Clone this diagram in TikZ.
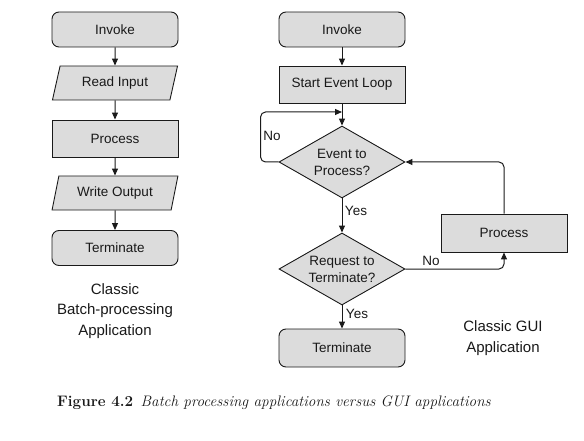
\documentclass[tikz,border=0pt]{standalone}
\usepackage{fontspec}
\newfontfamily\hv{Liberation Sans}
\usetikzlibrary{shapes.geometric,arrows.meta}
\definecolor{boxgray}{HTML}{DCDCDC}
\definecolor{linegray}{HTML}{1A1A1A}
\begin{document}
\begin{tikzpicture}[x=1pt,y=-1pt,
  every node/.style={font=\hv\fontsize{13.5}{15}\selectfont, text=black!90},
  base/.style={draw=linegray, fill=boxgray, line width=0.9pt, minimum width=126pt, minimum height=35pt, inner sep=0pt},
  termbox/.style={base, rounded corners=7pt},
  procbox/.style={base, rectangle, minimum height=37pt},
  iobox/.style={base, trapezium, trapezium left angle=70, trapezium right angle=110, trapezium stretches=true, minimum height=34pt},
  decbox/.style={base, diamond, aspect=1.75, minimum width=126pt, minimum height=72pt, align=center, font=\hv\fontsize{13.5}{17}\selectfont},
  conn/.style={draw=linegray, line width=1pt, -{Triangle[length=7pt,width=6pt]}},
  lbl/.style={font=\hv\fontsize{13.5}{15}\selectfont},
  captext/.style={align=center, font=\hv\fontsize{15}{20.5}\selectfont}
]
\useasboundingbox (0,0) rectangle (584,441);
% left column
\node[termbox] (inv1) at (115,29.5) {Invoke};
\node[iobox] (read1) at (115,83) {Read Input};
\node[procbox] (proc1) at (115,138.5) {Process};
\node[iobox] (write1) at (115,193) {Write Output};
\node[termbox] (term1) at (115,248) {Terminate};
\node[captext] (capl) at (115,311) {Classic\\Batch-processing\\Application};
\draw[conn] (inv1) -- (read1);
\draw[conn] (read1) -- (proc1);
\draw[conn] (proc1) -- (write1);
\draw[conn] (write1) -- (term1);
% right column
\node[termbox] (inv2) at (342,29.5) {Invoke};
\node[procbox] (start) at (342,84.5) {Start Event Loop};
\node[decbox] (dec1) at (342,162) {Event to\\Process?};
\node[decbox] (dec2) at (342,269) {Request to\\Terminate?};
\node[termbox, minimum height=38pt] (term2) at (342,348) {Terminate};
\node[procbox, minimum height=38pt] (proc2) at (504,233) {Process};
\node[captext] (capr) at (503,338) {Classic GUI\\Application};
\coordinate (loopend) at (342,112);
\draw[conn] (inv2) -- (start);
\draw[conn] (start) -- (dec1);
\draw[conn, rounded corners=5pt] (dec1.west) -- ++(-18,0) |- (loopend);
\node[lbl] (nolbl1) at (272,136) {No};
\draw[conn] (dec1) -- (dec2);
\node[lbl] (yes1) at (356,211) {Yes};
\draw[conn] (dec2) -- (term2);
\node[lbl] (yes2) at (357,314) {Yes};
\draw[conn, rounded corners=5pt] (dec2.east) -| (proc2.south);
\node[lbl] (nolbl2) at (431,261) {No};
\draw[conn, rounded corners=5pt] (proc2.north) |- (dec1.east);
% caption
\node[anchor=west, font=\fontsize{15.2}{17}\selectfont, inner sep=0pt] (caption) at (57,403) {\textbf{Figure 4.2}\enspace\textit{Batch processing applications versus GUI applications}};
\end{tikzpicture}
\end{document}
